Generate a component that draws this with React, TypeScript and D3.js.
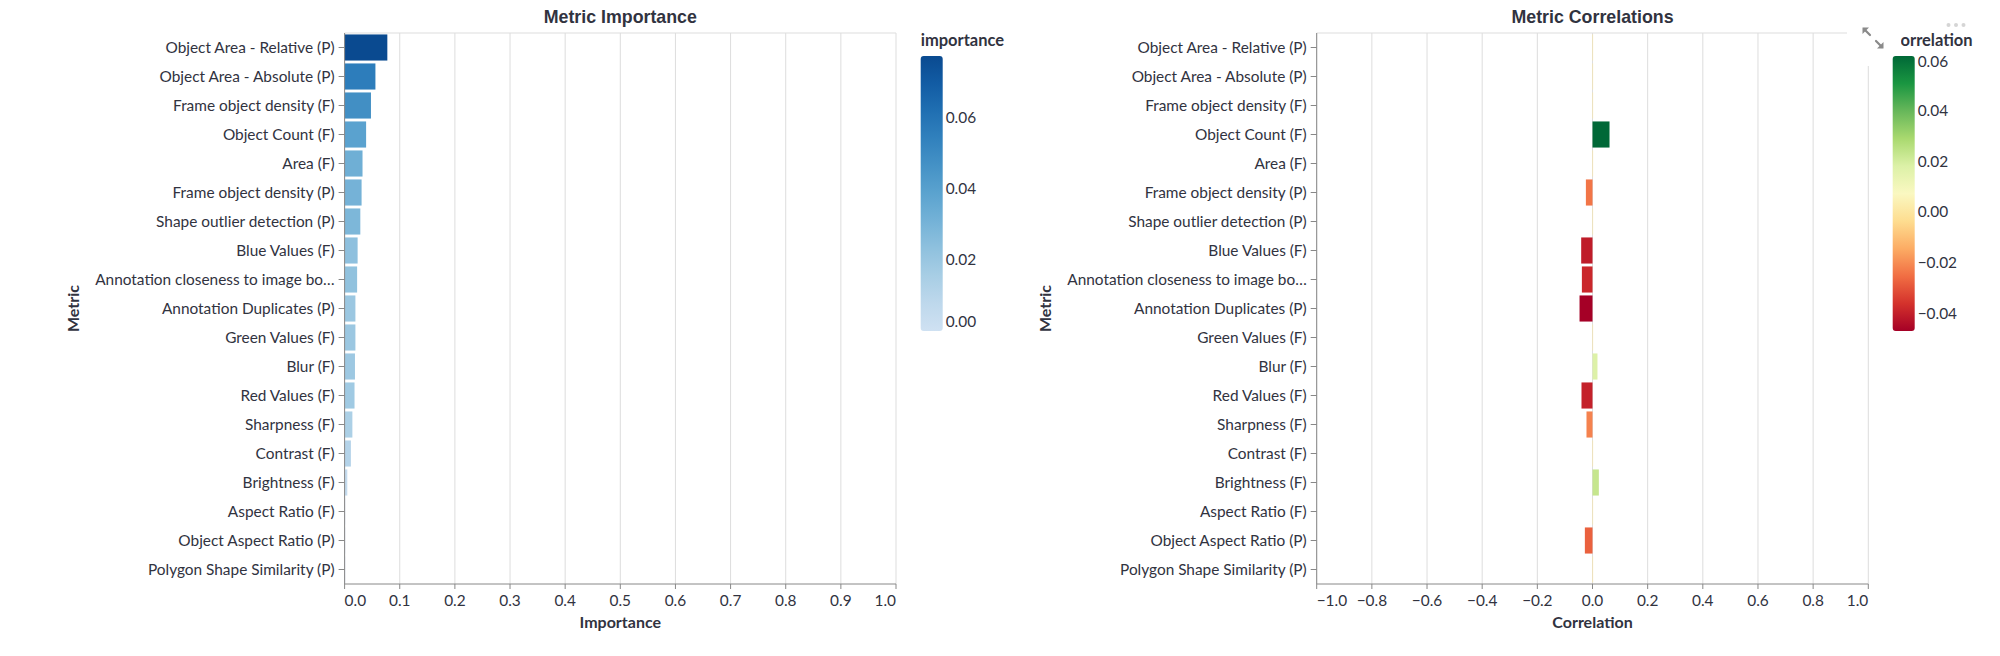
import React from "react";
import * as d3 from "d3";

const metrics = [
  "Object Area - Relative (P)",
  "Object Area - Absolute (P)",
  "Frame object density (F)",
  "Object Count (F)",
  "Area (F)",
  "Frame object density (P)",
  "Shape outlier detection (P)",
  "Blue Values (F)",
  "Annotation closeness to image bo…",
  "Annotation Duplicates (P)",
  "Green Values (F)",
  "Blur (F)",
  "Red Values (F)",
  "Sharpness (F)",
  "Contrast (F)",
  "Brightness (F)",
  "Aspect Ratio (F)",
  "Object Aspect Ratio (P)",
  "Polygon Shape Similarity (P)",
];

const importance = [
  0.0775, 0.0559, 0.0478, 0.039, 0.0325, 0.0308, 0.0285, 0.0236, 0.0227, 0.0196,
  0.0196, 0.0188, 0.018, 0.0141, 0.0114, 0.0049, 0, 0, 0,
];

const correlation = [
  0.001, 0.001, 0.001, 0.0617, 0.0005, -0.024, 0.001, -0.041, -0.0385, -0.047,
  0.001, 0.018, -0.0399, -0.0218, 0.0005, 0.023, 0.001, -0.0277, 0,
];

const importanceTicks = [0, 0.1, 0.2, 0.3, 0.4, 0.5, 0.6, 0.7, 0.8, 0.9, 1.0];
const correlationTicks = [-1, -0.8, -0.6, -0.4, -0.2, 0, 0.2, 0.4, 0.6, 0.8, 1.0];
const importanceLegendTicks = [0, 0.02, 0.04, 0.06];
const correlationLegendTicks = [-0.04, -0.02, 0, 0.02, 0.04, 0.06];

const blues = ["#cfe1f2", "#bed8ec", "#a8cee5", "#8fc1de", "#74b2d7", "#5ba3cf", "#4592c6", "#3181bd", "#206fb2", "#125ca4", "#0a4a90"];
const rdylgn = ["#a50026", "#d4322c", "#f16e43", "#fcac64", "#fedd90", "#faf8c1", "#dcf1a7", "#a9d96f", "#67b75a", "#1a9641", "#006837"];

const FONT = "'Source Sans Pro', Lato, sans-serif";
const TITLE_FONT = "'Liberation Sans', Arial, Helvetica, sans-serif";
const TEXT = "#31333F";
const GRID = "#dddddd";
const AXIS = "#888888";
const LABEL_SIZE = 15.4;
const TITLE_SIZE = 16;

const TOP = 33;
const BOTTOM = 584;

const fmt1 = (v: number) => d3.format(".1f")(v).replace("-", "\u2212");
const fmt2 = (v: number) => d3.format(".2f")(v).replace("-", "\u2212");

type PanelProps = {
  x0: number;
  x1: number;
  domain: [number, number];
  ticks: number[];
  values: number[];
  color: (v: number) => string;
  title: string;
  xTitle: string;
  yTitleX: number;
};

function Panel({ x0, x1, domain, ticks, values, color, title, xTitle, yTitleX }: PanelProps) {
  const x = d3.scaleLinear().domain(domain).range([x0, x1]);
  const y = d3.scaleBand<string>().domain(metrics).range([TOP, BOTTOM]).paddingInner(0.1).paddingOuter(0.05);
  return (
    <g>
      {ticks.map((t) => (
        <line key={"g" + t} x1={x(t)} x2={x(t)} y1={TOP} y2={BOTTOM} stroke={GRID} strokeWidth={1} />
      ))}
      <line x1={x0} x2={x1} y1={TOP} y2={TOP} stroke={GRID} strokeWidth={1} />
      {values.map((v, i) => {
        const m = metrics[i];
        const xa = x(Math.min(0, v));
        const xb = x(Math.max(0, v));
        return (
          <rect key={m} x={xa} y={y(m)!} width={Math.max(xb - xa, 0.6)} height={y.bandwidth()} fill={color(v)} />
        );
      })}
      <line x1={x0} x2={x0} y1={TOP} y2={BOTTOM} stroke={AXIS} strokeWidth={1} />
      {metrics.map((m) => {
        const cy = y(m)! + y.bandwidth() / 2;
        return (
          <g key={"yl" + m}>
            <line x1={x0 - 6} x2={x0} y1={cy} y2={cy} stroke={AXIS} strokeWidth={1} />
            <text x={x0 - 10} y={cy} dy="0.35em" textAnchor="end" fontSize={LABEL_SIZE} fontFamily={FONT} fill={TEXT}>
              {m}
            </text>
          </g>
        );
      })}
      <text
        transform={`translate(${yTitleX},${(TOP + BOTTOM) / 2}) rotate(-90)`}
        textAnchor="middle"
        dy="0.35em"
        fontSize={TITLE_SIZE}
        fontWeight="bold"
        fontFamily={FONT}
        fill={TEXT}
      >
        Metric
      </text>
      <line x1={x0} x2={x1} y1={BOTTOM} y2={BOTTOM} stroke={AXIS} strokeWidth={1} />
      {ticks.map((t, i) => (
        <g key={"xt" + t}>
          <line x1={x(t)} x2={x(t)} y1={BOTTOM} y2={BOTTOM + 5} stroke={AXIS} strokeWidth={1} />
          <text
            x={x(t)}
            y={601}
            dy="0.35em"
            textAnchor={i === 0 ? "start" : i === ticks.length - 1 ? "end" : "middle"}
            fontSize={LABEL_SIZE}
            fontFamily={FONT}
            fill={TEXT}
          >
            {fmt1(t)}
          </text>
        </g>
      ))}
      <text x={(x0 + x1) / 2} y={622} dy="0.35em" textAnchor="middle" fontSize={TITLE_SIZE} fontWeight="bold" fontFamily={FONT} fill={TEXT}>
        {xTitle}
      </text>
      <text x={(x0 + x1) / 2} y={17} dy="0.35em" textAnchor="middle" fontSize={17.8} fontWeight="bold" fontFamily={TITLE_FONT} fill={TEXT}>
        {title}
      </text>
    </g>
  );
}

type LegendProps = {
  id: string;
  x: number;
  title: string;
  domain: [number, number];
  colors: string[];
  ticks: number[];
};

function Legend({ id, x, title, domain, colors, ticks }: LegendProps) {
  const top = 56;
  const bottom = 331;
  const w = 22;
  const s = d3.scaleLinear().domain(domain).range([bottom, top]);
  return (
    <g>
      <defs>
        <linearGradient id={id} x1="0" y1="1" x2="0" y2="0">
          {colors.map((c, i) => (
            <stop key={i} offset={i / (colors.length - 1)} stopColor={c} />
          ))}
        </linearGradient>
      </defs>
      <text x={x} y={40} dy="0.35em" fontSize={16.5} fontWeight="bold" fontFamily={FONT} fill={TEXT}>
        {title}
      </text>
      <rect x={x} y={top} width={w} height={bottom - top} rx={3} fill={`url(#${id})`} />
      {ticks.map((t) => {
        let ty = s(t);
        if (ty > bottom - 9) ty = bottom - 9;
        if (ty < top + 6) ty = top + 6;
        return (
          <text key={t} x={x + w + 3} y={ty} dy="0.35em" fontSize={LABEL_SIZE} fontFamily={FONT} fill={TEXT}>
            {fmt2(t)}
          </text>
        );
      })}
    </g>
  );
}

export default function App() {
  const impMax = d3.max(importance) as number;
  const impColor = d3.scaleSequential(d3.piecewise(d3.interpolateRgb, blues)).domain([0, impMax]);
  const corExt = d3.extent(correlation) as [number, number];
  const corColor = d3.scaleSequential(d3.piecewise(d3.interpolateRgb, rdylgn)).domain(corExt);

  return (
    <svg
      width={2000}
      height={656}
      style={{ position: "absolute", left: 0, top: 0, display: "block", background: "#fff" }}
    >
      <rect x={0} y={0} width={2000} height={656} fill="#fff" />
      <Panel
        x0={344.6}
        x1={896}
        domain={[0, 1]}
        ticks={importanceTicks}
        values={importance}
        color={(v) => impColor(v)}
        title="Metric Importance"
        xTitle="Importance"
        yTitleX={73.5}
      />
      <Legend id="impGrad" x={920.7} title="importance" domain={[0, impMax]} colors={blues} ticks={importanceLegendTicks} />
      <Panel
        x0={1316.7}
        x1={1868.3}
        domain={[-1, 1]}
        ticks={correlationTicks}
        values={correlation}
        color={(v) => corColor(v)}
        title="Metric Correlations"
        xTitle="Correlation"
        yTitleX={1045}
      />
      <Legend id="corGrad" x={1892.7} title="correlation" domain={corExt} colors={rdylgn} ticks={correlationLegendTicks} />
      <rect x={1847} y={14} width={54} height={40} fill="#fff" />
      <rect x={1847} y={14} width={30} height={52} fill="#fff" />
      <g stroke="#8a8a8a" strokeWidth={2.2} fill="none" strokeLinecap="round">
        <path d="M1864,29 L1870,35" />
        <path d="M1876,41 L1882,47" />
      </g>
      <g fill="#8a8a8a">
        <path d="M1862.5,27.5 L1869,27.5 L1862.5,34 Z" />
        <path d="M1883.5,48.5 L1877,48.5 L1883.5,42 Z" />
      </g>
      <g fill="#d5d5d5">
        <circle cx={1948.5} cy={25} r={2} />
        <circle cx={1956} cy={25} r={2} />
        <circle cx={1963.5} cy={25} r={2} />
      </g>
    </svg>
  );
}
